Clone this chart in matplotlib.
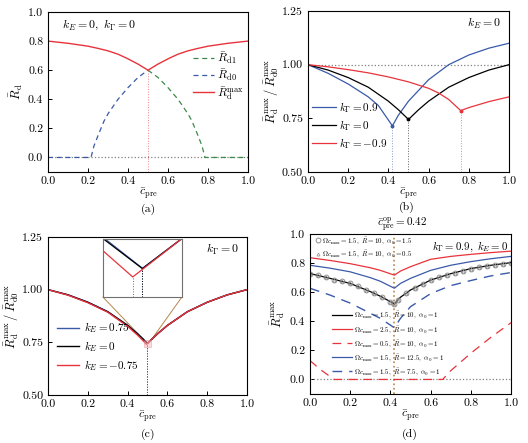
import matplotlib
matplotlib.use("Agg")
import matplotlib.pyplot as plt
from matplotlib.patches import Rectangle, ConnectionPatch

plt.rcParams["font.family"] = "cmr10"
plt.rcParams["mathtext.fontset"] = "cm"
plt.rcParams["axes.formatter.use_mathtext"] = True
plt.rcParams["font.size"] = 8.5

RED = "#e8333b"
BLUE = "#3a5aa8"
GREEN = "#3a8a4a"
BROWN = "#b8864a"

# ---- panel (a): k_E = 0, k_Gamma = 0
xa_max = [0.0, 0.1, 0.2, 0.25, 0.3, 0.35, 0.4, 0.45, 0.5, 0.55, 0.6, 0.65, 0.7, 0.75, 0.8, 0.9, 1.0]
ya_max = [0.80, 0.785, 0.765, 0.75, 0.733, 0.71, 0.678, 0.642, 0.60, 0.642, 0.678, 0.71, 0.733, 0.75, 0.765, 0.785, 0.80]
xa_d0 = [0.0, 0.215, 0.23, 0.25, 0.28, 0.3, 0.35, 0.4, 0.45, 0.5]
ya_d0 = [0.0, 0.0, 0.08, 0.15, 0.25, 0.30, 0.40, 0.48, 0.55, 0.60]
xa_d1 = [0.5, 0.55, 0.6, 0.65, 0.7, 0.72, 0.75, 0.77, 0.785, 1.0]
ya_d1 = [0.60, 0.55, 0.48, 0.40, 0.30, 0.25, 0.15, 0.08, 0.0, 0.0]

# ---- panel (b): k_E = 0, varying k_Gamma
xb_p09 = [0.0, 0.1, 0.2, 0.3, 0.35, 0.42, 0.45, 0.5, 0.6, 0.7, 0.8, 0.9, 1.0]
yb_p09 = [1.0, 0.96, 0.91, 0.85, 0.81, 0.715, 0.765, 0.83, 0.93, 1.0, 1.045, 1.077, 1.10]
xb_0 = [0.0, 0.1, 0.2, 0.3, 0.4, 0.45, 0.48, 0.5, 0.52, 0.55, 0.6, 0.7, 0.8, 0.9, 1.0]
yb_0 = [1.0, 0.975, 0.94, 0.895, 0.83, 0.79, 0.763, 0.745, 0.763, 0.79, 0.83, 0.895, 0.94, 0.975, 1.0]
xb_m09 = [0.0, 0.1, 0.2, 0.3, 0.4, 0.5, 0.6, 0.65, 0.7, 0.76, 0.8, 0.9, 1.0]
yb_m09 = [1.0, 0.99, 0.977, 0.962, 0.943, 0.92, 0.89, 0.868, 0.838, 0.786, 0.80, 0.828, 0.85]

# ---- panel (c): k_Gamma = 0, varying k_E
xc_p075 = [0.0, 0.1, 0.2, 0.3, 0.4, 0.45, 0.48, 0.5, 0.52, 0.55, 0.6, 0.7, 0.8, 0.9, 1.0]
yc_p075 = [1.0, 0.976, 0.941, 0.896, 0.831, 0.791, 0.7638, 0.7452, 0.763, 0.79, 0.83, 0.895, 0.94, 0.975, 1.0]
xc_0 = xb_0
yc_0 = yb_0
xc_m075 = [0.0, 0.1, 0.2, 0.3, 0.4, 0.45, 0.48, 0.4951, 0.52, 0.55, 0.6, 0.7, 0.8, 0.9, 1.0]
yc_m075 = [1.0, 0.974, 0.938, 0.893, 0.826, 0.784, 0.7557, 0.740, 0.763, 0.79, 0.83, 0.895, 0.94, 0.975, 1.0]

# ---- panel (d): k_Gamma = 0.9, k_E = 0
xd = [0.0, 0.1, 0.2, 0.3, 0.35, 0.42, 0.45, 0.5, 0.6, 0.7, 0.8, 0.9, 1.0]
yd_base = [0.728, 0.695, 0.66, 0.604, 0.572, 0.52, 0.565, 0.615, 0.683, 0.727, 0.762, 0.785, 0.803]
yd_om25 = [0.837, 0.818, 0.796, 0.768, 0.75, 0.717, 0.745, 0.775, 0.826, 0.846, 0.86, 0.872, 0.882]
yd_R125 = [0.785, 0.765, 0.74, 0.7, 0.675, 0.627, 0.66, 0.695, 0.75, 0.785, 0.81, 0.83, 0.846]
yd_R75 = [0.627, 0.58, 0.525, 0.455, 0.42, 0.355, 0.42, 0.50, 0.59, 0.645, 0.68, 0.712, 0.735]
xd_om05 = [0.0, 0.05, 0.12, 0.66, 0.7, 0.8, 0.9, 1.0]
yd_om05 = [0.13, 0.07, 0.0, 0.0, 0.06, 0.18, 0.29, 0.39]
xd_mk = [0.0, 0.04, 0.08, 0.12, 0.16, 0.2, 0.24, 0.28, 0.32, 0.36, 0.4, 0.42, 0.44, 0.48,
         0.52, 0.56, 0.6, 0.64, 0.68, 0.72, 0.76, 0.8, 0.84, 0.88, 0.92, 0.96, 1.0]
yd_mk = [0.728, 0.715, 0.701, 0.687, 0.674, 0.66, 0.64, 0.618, 0.593, 0.565, 0.535, 0.52, 0.548, 0.595,
         0.627, 0.655, 0.683, 0.701, 0.719, 0.734, 0.748, 0.762, 0.771, 0.781, 0.789, 0.797, 0.803]
c_op = 0.42

fig = plt.figure(figsize=(5.28, 4.43), dpi=100)
ax_a = fig.add_axes([0.0909, 0.6117, 0.3788, 0.3612])
ax_b = fig.add_axes([0.5833, 0.6117, 0.3807, 0.3634])
ax_c = fig.add_axes([0.0909, 0.1084, 0.3769, 0.3567])
ax_d = fig.add_axes([0.5871, 0.1106, 0.3807, 0.3612])

xlab = r"$\bar{c}_{\rm pre}$"
for ax in (ax_a, ax_b, ax_c, ax_d):
    ax.set_xlim(0, 1)
    ax.set_xticks([0, 0.2, 0.4, 0.6, 0.8, 1.0])
    ax.set_xticklabels(["0.0", "0.2", "0.4", "0.6", "0.8", "1.0"])
    ax.tick_params(direction="in", length=3, width=0.7, labelsize=8.5, top=False, right=False)
    ax.set_xlabel(xlab, fontsize=8.5, labelpad=0)
    for s in ax.spines.values():
        s.set_linewidth(0.8)

# (a)
ax_a.set_ylim(-0.1, 1.0)
ax_a.set_yticks([0, 0.2, 0.4, 0.6, 0.8, 1.0])
ax_a.set_yticklabels(["0.0", "0.2", "0.4", "0.6", "0.8", "1.0"])
ax_a.axhline(0, color="gray", ls=":", lw=0.9)
ax_a.vlines(xa_max[ya_max.index(min(ya_max))], -0.1, min(ya_max), color=RED, ls=":", lw=0.7, alpha=0.6)
ax_a.plot(xa_d1, ya_d1, color=GREEN, ls=(0, (4, 3)), lw=0.9, label=r"$\bar{R}_{\rm d1}$")
ax_a.plot(xa_d0, ya_d0, color=BLUE, ls=(0, (4, 3)), lw=0.9, label=r"$\bar{R}_{\rm d0}$")
ax_a.plot(xa_max, ya_max, color=RED, lw=1.0, label=r"$\bar{R}_{\rm d}^{\max}$")
ax_a.set_ylabel(r"$\bar{R}_{\rm d}$", fontsize=9, labelpad=2)
ax_a.text(0.07, 0.9, r"$k_E=0,\ k_\Gamma=0$", transform=ax_a.transAxes, fontsize=8.5)
ax_a.legend(loc="center right", bbox_to_anchor=(1.03, 0.6), frameon=False, fontsize=8.5,
            handlelength=1.8, handletextpad=0.2, labelspacing=0.1)

# (b)
for ax in (ax_b, ax_c):
    ax.set_ylim(0.5, 1.25)
    ax.set_yticks([0.5, 0.75, 1.0, 1.25])
    ax.set_yticklabels(["0.50", "0.75", "1.00", "1.25"])
    ax.set_ylabel(r"$\bar{R}_{\rm d}^{\max}\,/\,\bar{R}_{\rm d0}^{\max}$", fontsize=9, labelpad=1)
ax_b.axhline(1.0, color="gray", ls=":", lw=0.9)
for xs, ys, col, lab in [(xb_p09, yb_p09, BLUE, r"$k_\Gamma=0.9$"),
                         (xb_0, yb_0, "black", r"$k_\Gamma=0$"),
                         (xb_m09, yb_m09, RED, r"$k_\Gamma=-0.9$")]:
    i = ys.index(min(ys))
    ax_b.vlines(xs[i], 0.5, ys[i], color=col, ls=":", lw=0.7, alpha=0.6)
    ax_b.plot(xs, ys, color=col, lw=0.9, label=lab)
    ax_b.plot(xs[i], ys[i], "o", color=col, ms=1.8)
ax_b.text(0.96, 0.9, r"$k_E=0$", transform=ax_b.transAxes, ha="right", fontsize=8.5)
ax_b.legend(loc="lower left", bbox_to_anchor=(0.02, 0.13), borderaxespad=0, borderpad=0,
            frameon=False, fontsize=8, handlelength=2.15, handletextpad=0.3, labelspacing=0.3)

# (c)
series_c = [(xc_p075, yc_p075, BLUE, r"$k_E=0.75$"),
            (xc_0, yc_0, "black", r"$k_E=0$"),
            (xc_m075, yc_m075, RED, r"$k_E=-0.75$")]
for xs, ys, col, lab in series_c:
    i = ys.index(min(ys))
    ax_c.vlines(xs[i], 0.5, ys[i], color=col, ls=":", lw=0.7, alpha=0.7)
    ax_c.plot(xs, ys, color=col, lw=1.0, label=lab)
ax_c.text(0.96, 0.9, r"$k_\Gamma=0$", transform=ax_c.transAxes, ha="right", fontsize=8.5)
ax_c.legend(loc="lower left", bbox_to_anchor=(0.045, 0.14), borderaxespad=0, borderpad=0,
            frameon=False, fontsize=8, handlelength=2.0, handletextpad=0.4, labelspacing=0.35)

zx0, zx1, zy0, zy1 = 0.48, 0.52, 0.728, 0.763
ax_c.add_patch(Rectangle((zx0, zy0), zx1 - zx0, zy1 - zy0, facecolor="#f4b8bc", alpha=0.5,
                         edgecolor="#e88a90", lw=0.6, zorder=3))
axins = ax_c.inset_axes([0.276, 0.62, 0.397, 0.37])
for xs, ys, col, lab in series_c:
    i = ys.index(min(ys))
    axins.vlines(xs[i], zy0, ys[i], color=col, ls=":", lw=0.7)
    axins.plot(xs, ys, color=col, lw=0.9)
axins.set_xlim(zx0, zx1)
axins.set_ylim(zy0, zy1)
axins.set_xticks([])
axins.set_yticks([])
for s in axins.spines.values():
    s.set_color("#707070")
    s.set_linewidth(0.8)
for xa, xb in [(0, zx0), (1, zx1)]:
    con = ConnectionPatch(xyA=(xa, 0), coordsA=axins.transAxes, xyB=(xb, zy1), coordsB=ax_c.transData,
                          color=BROWN, lw=0.7)
    ax_c.add_artist(con)

# (d)
ax_d.set_ylim(-0.1, 1.0)
ax_d.set_yticks([0, 0.2, 0.4, 0.6, 0.8, 1.0])
ax_d.set_yticklabels(["0.0", "0.2", "0.4", "0.6", "0.8", "1.0"])
ax_d.set_ylabel(r"$\bar{R}_{\rm d}^{\max}$", fontsize=9, labelpad=2)
ax_d.axhline(0, color="gray", ls=":", lw=0.9)
ax_d.axvline(c_op, color=BROWN, ls=":", lw=1.2)
l1, = ax_d.plot(xd, yd_base, color="black", lw=0.9)
l2, = ax_d.plot(xd, yd_om25, color=RED, lw=0.9)
l3, = ax_d.plot(xd_om05, yd_om05, color=RED, lw=0.9, ls=(0, (7, 5)))
l4, = ax_d.plot(xd, yd_R125, color=BLUE, lw=0.9)
l5, = ax_d.plot(xd, yd_R75, color=BLUE, lw=1.0, ls=(0, (7, 5)))
m2, = ax_d.plot(xd_mk, yd_mk, "^", ms=2.2, mfc="none", mec="#909090", mew=0.5, ls="none")
m1, = ax_d.plot(xd_mk, yd_mk, "o", ms=3.5, mfc="none", mec="#808080", mew=0.6, ls="none")
ax_d.text(c_op + 0.04, 1.008, r"$\bar{c}_{\rm pre}^{\rm op}=0.42$", transform=ax_d.transData,
          ha="center", va="bottom", fontsize=8)
ax_d.text(0.985, 0.9, r"$k_\Gamma=0.9,\ k_E=0$", transform=ax_d.transAxes, ha="right", fontsize=7.8)

leg_top = ax_d.legend([m1, m2],
                      [r"$\Omega c_{\max}=1.5,\ \bar{R}=10,\ \alpha_0=1.5$",
                       r"$\Omega c_{\max}=1.5,\ \bar{R}=10,\ \alpha_0=0.5$"],
                      loc="upper left", bbox_to_anchor=(0.03, 0.995), borderaxespad=0, borderpad=0,
                      frameon=False, fontsize=5, handlelength=0.6, handletextpad=0.3, labelspacing=0.45)
ax_d.add_artist(leg_top)
ax_d.legend([l1, l2, l3, l4, l5],
            [r"$\Omega c_{\max}=1.5,\ \bar{R}=10,\ \alpha_0=1$",
             r"$\Omega c_{\max}=2.5,\ \bar{R}=10,\ \alpha_0=1$",
             r"$\Omega c_{\max}=0.5,\ \bar{R}=10,\ \alpha_0=1$",
             r"$\Omega c_{\max}=1.5,\ \bar{R}=12.5,\ \alpha_0=1$",
             r"$\Omega c_{\max}=1.5,\ \bar{R}=7.5,\ \alpha_0=1$"],
            loc="lower left", bbox_to_anchor=(0.11, 0.105), borderaxespad=0, borderpad=0,
            frameon=False, fontsize=5, handlelength=2.9, handletextpad=0.3, labelspacing=0.5)

for x, y, s in [(148 / 528, 1 - 209 / 443, "(a)"), (407 / 528, 1 - 207 / 443, "(b)"),
                (148 / 528, 1 - 434 / 443, "(c)"), (410 / 528, 1 - 434 / 443, "(d)")]:
    fig.text(x, y, s, ha="center", va="center", fontsize=8.5)

fig.savefig("out.png", dpi=100)
